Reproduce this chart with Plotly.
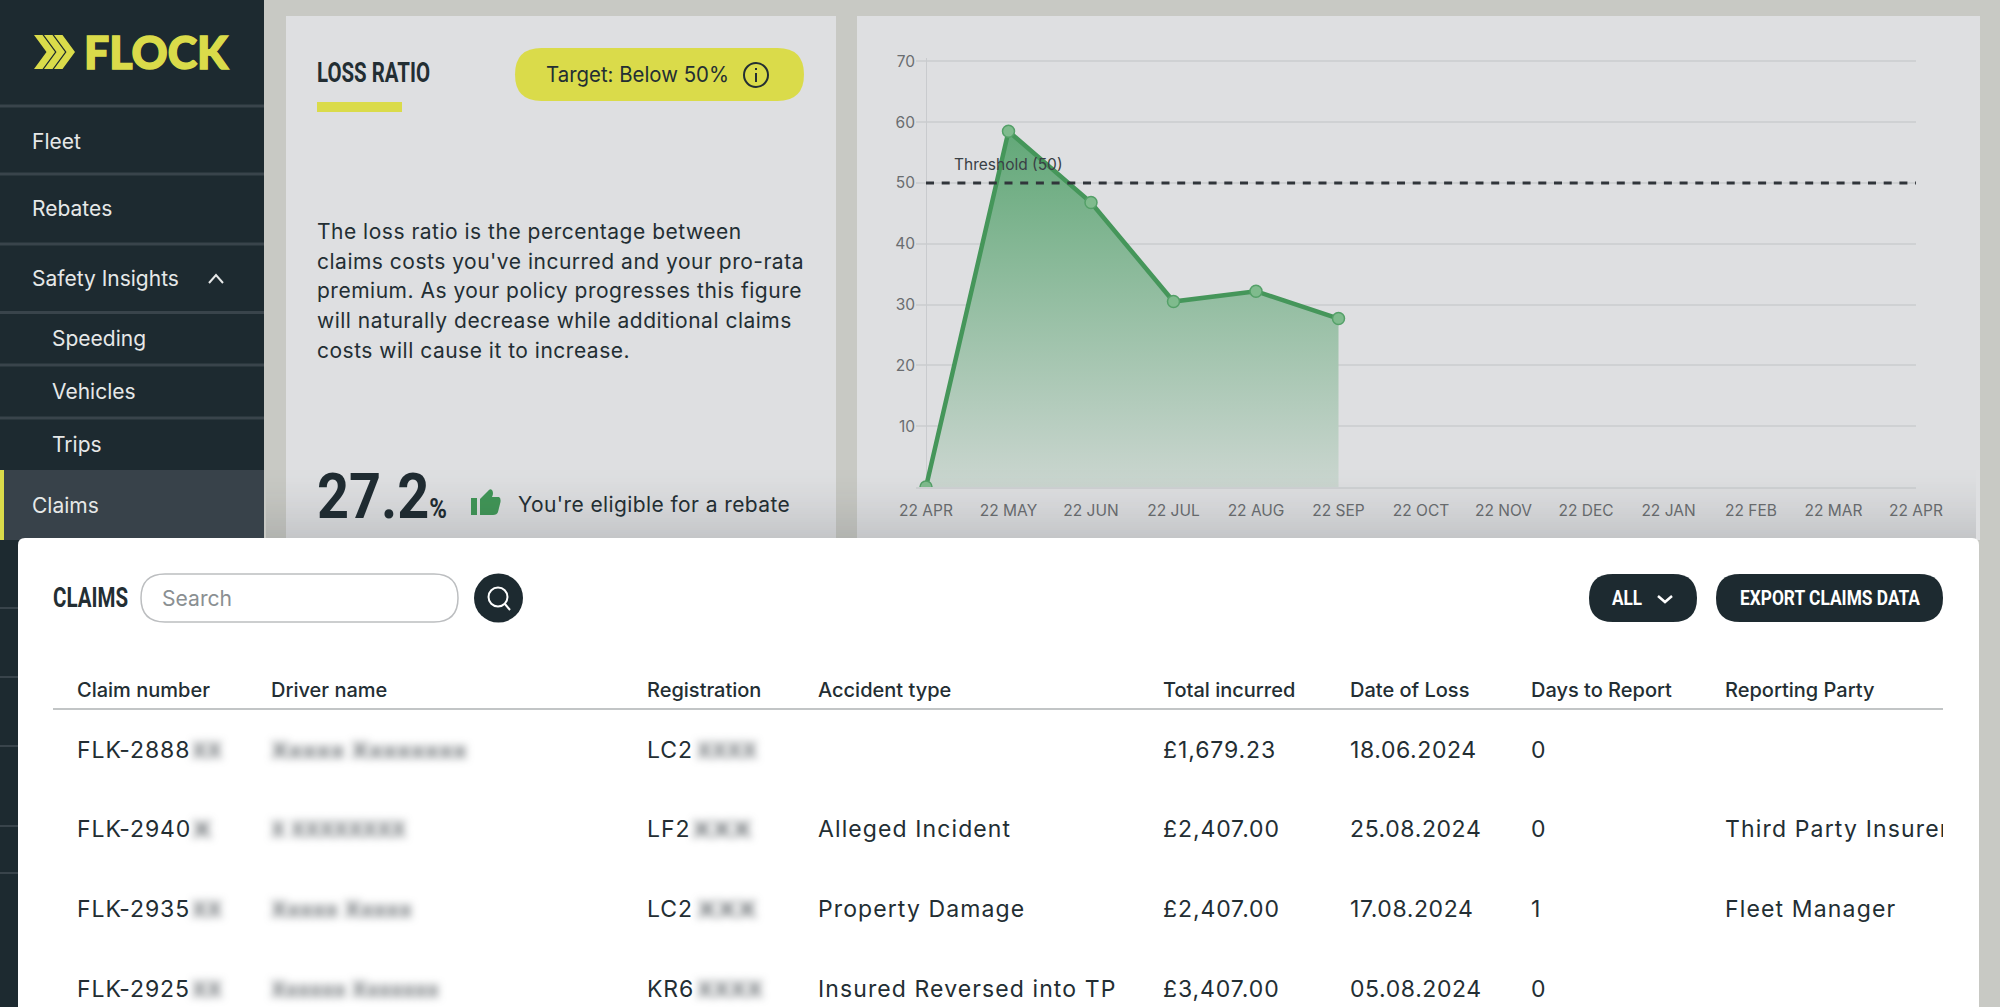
import json
import plotly.graph_objects as go

W, H = 2000, 1007

months = ["22 APR", "22 MAY", "22 JUN", "22 JUL", "22 AUG", "22 SEP", "22 OCT",
          "22 NOV", "22 DEC", "22 JAN", "22 FEB", "22 MAR", "22 APR"]
month_pos = list(range(len(months)))
loss_ratio = [0, 58.5, 46.8, 30.5, 32.2, 27.7]
threshold = 50
y_ticks = [10, 20, 30, 40, 50, 60, 70]

nav_top = ["Fleet", "Rebates", "Safety Insights"]
nav_sub = ["Speeding", "Vehicles", "Trips"]
blurb = ["The loss ratio is the percentage between",
         "claims costs you've incurred and your pro-rata",
         "premium. As your policy progresses this figure",
         "will naturally decrease while additional claims",
         "costs will cause it to increase."]

headers = ["Claim number", "Driver name", "Registration", "Accident type",
           "Total incurred", "Date of Loss", "Days to Report", "Reporting Party"]
claim_no = ["FLK-2888", "FLK-2940", "FLK-2935", "FLK-2925"]
reg_no = ["LC2", "LF2", "LC2", "KR6"]
accident = ["", "Alleged Incident", "Property Damage", "Insured Reversed into TP"]
incurred = ["£1,679.23", "£2,407.00", "£2,407.00", "£3,407.00"]
loss_date = ["18.06.2024", "25.08.2024", "17.08.2024", "05.08.2024"]
days_report = ["0", "0", "1", "0"]
party = ["", "Third Party Insurer", "Fleet Manager", ""]
# the redacted bits are blurred in the source, so these are just filler of about the same length
hidden_claim = ["XX", "X", "XX", "XX"]
hidden_driver = ["Xxxxx Xxxxxxxx", "X XXXXXXXX", "Xxxxx Xxxxx", "Xxxxxx Xxxxxxx"]
hidden_reg = ["XXXX", "XXX", "XXX", "XXXX"]

DARK = "#1d2a30"
YELLOW = "#dadb4a"
GREEN = "#45965a"
TEXT = "#232e33"
FONT = "Inter"
HEAVY = "Roboto"


def px(x):
    return x / W


def py(y):
    return 1 - y / H


def pt(x, y):
    return f"{px(x):.5f} {py(y):.5f}"


def rrect(x0, y0, x1, y1, r):
    return (f"M {pt(x0 + r, y0)} L {pt(x1 - r, y0)} Q {pt(x1, y0)} {pt(x1, y0 + r)} "
            f"L {pt(x1, y1 - r)} Q {pt(x1, y1)} {pt(x1 - r, y1)} L {pt(x0 + r, y1)} "
            f"Q {pt(x0, y1)} {pt(x0, y1 - r)} L {pt(x0, y0 + r)} Q {pt(x0, y0)} {pt(x0 + r, y0)} Z")


def poly(points, close=True):
    d = "M " + " L ".join(pt(x, y) for x, y in points)
    return d + (" Z" if close else "")


shapes = []


def box(x0, y0, x1, y1, fill, layer="below"):
    shapes.append(dict(type="rect", xref="paper", yref="paper", x0=px(x0), x1=px(x1),
                       y0=py(y1), y1=py(y0), fillcolor=fill, line_width=0, layer=layer))


def path(d, fill=None, line=None, width=0, layer="below"):
    shapes.append(dict(type="path", xref="paper", yref="paper", path=d, layer=layer,
                       fillcolor=fill or "rgba(0,0,0,0)",
                       line=dict(color=line or "rgba(0,0,0,0)", width=width)))


def circle(cx, cy, r, fill=None, line=None, width=0, layer="below"):
    shapes.append(dict(type="circle", xref="paper", yref="paper", x0=px(cx - r), x1=px(cx + r),
                       y0=py(cy + r), y1=py(cy - r), layer=layer,
                       fillcolor=fill or "rgba(0,0,0,0)",
                       line=dict(color=line or "rgba(0,0,0,0)", width=width)))


annotations = []
text_fit = {}   # annotation index -> letter spacing / squeezed width, applied in the page


def label(x, y, text, size=21, color=TEXT, family=FONT, weight=400, track=0, fit=None, clip=None, stroke=0):
    note = dict(xref="paper", yref="paper", x=px(x), y=py(y), text=text, showarrow=False,
                xanchor="left", yanchor="middle", align="left", borderpad=0, borderwidth=0,
                font=dict(size=size, color=color, family=family, weight=weight))
    if clip:
        note["width"] = clip
    annotations.append(note)
    k = len(annotations) - 1
    if track or fit or stroke:
        text_fit[k] = dict(ls=track, w=fit, stroke=stroke, color=color)
    return k


# page, sidebar and the two cards
box(0, 0, W, H, "#c8c9c4")
box(0, 0, 264, H, DARK)
box(286, 16, 836, 540, "#dedfe1")
box(857, 16, 1980, 540, "#dedfe1")

for y in [106, 174, 244, 312.5, 365, 418]:
    box(0, y - 1.5, 264, y + 1.5, "#39444b")
for y in [608, 677, 746, 826, 873]:
    box(0, y - 1, 18, y + 1, "#39444b")
box(0, 470, 264, 540, "#38424a")
box(0, 470, 4, 540, YELLOW)

# logo
for off in [0, 10, 20]:
    path(poly([(34 + off, 35), (42.5 + off, 35), (55 + off, 52), (42.5 + off, 69), (34 + off, 69), (46.5 + off, 52)]),
         fill=YELLOW)
label(84, 52, "FLOCK", size=45, color=YELLOW, family="Lato", weight=900, fit=144, stroke=1.5)

for name, y in zip(nav_top, [141, 209, 278]):
    label(32, y, name, color="#e6e8e8")
for name, y in zip(nav_sub, [338.5, 391.5, 444]):
    label(52, y, name, color="#e6e8e8")
label(32, 505, "Claims", color="#e6e8e8")
path(poly([(209, 283), (216, 275), (223, 283)], close=False), line="#e6e8e8", width=2)

# loss ratio card
label(317, 73, "LOSS RATIO", size=27, family=HEAVY, weight=700, fit=113)
box(317, 102, 402, 112, YELLOW)
path(rrect(515, 48, 804, 101, 26.5), fill=YELLOW)
label(546, 75, "Target: Below 50%", size=21, fit=183)
circle(756, 75, 12, line=TEXT, width=2)
box(755, 73, 757, 82, TEXT)
box(755, 68, 757, 70, TEXT)
for line, y in zip(blurb, [231.5, 261, 290.5, 320.5, 350.5]):
    label(317, y, line, size=21, track=0.5)
label(317, 496, '27.2<span style="font-size:27px">%</span>', size=63, color="#1f2b31",
      family=HEAVY, weight=700, fit=130)
box(471, 498, 477, 515, "#3f9656")
path(f"M {pt(480, 499)} L {pt(488, 491)} Q {pt(490, 488)} {pt(492, 490)} Q {pt(494, 493)} {pt(492, 497)} "
     f"L {pt(499, 497)} Q {pt(501, 498)} {pt(500.5, 502)} L {pt(498, 512)} Q {pt(497, 515)} {pt(493, 515)} "
     f"L {pt(480, 515)} Z", fill="#3f9656")
label(518, 504, "You're eligible for a rebate", size=21, track=0.4)

# shadow thrown upwards by the white panel
for i in range(35):
    y = 470 + i * 2
    box(266, y, 1976, y + 2, f"rgba(60,64,70,{0.16 * (i / 34) ** 1.4 + 0.002:.4f})", layer="above")

# white claims panel
path(rrect(18, 538, 1979, H + 20, 7), fill="#ffffff", layer="above")
label(53, 598, "CLAIMS", size=27, family=HEAVY, weight=700, fit=75)
path(rrect(141, 574, 458, 622, 24), fill="#ffffff", line="#bcbec0", width=1.5, layer="above")
label(162, 598, "Search", size=21, color="#8a8f92", fit=70)
circle(498.5, 598, 24.5, fill=DARK, layer="above")
circle(498, 597, 9.5, line="#ffffff", width=2, layer="above")
path(poly([(505, 604), (510, 610)], close=False), line="#ffffff", width=2, layer="above")
path(rrect(1589, 574, 1697, 622, 24), fill=DARK, layer="above")
label(1612, 598, "ALL", size=21, color="#ffffff", family=HEAVY, weight=700, fit=30)
path(poly([(1658, 596), (1665, 602), (1672, 596)], close=False), line="#ffffff", width=2.5, layer="above")
path(rrect(1716, 574, 1943, 622, 24), fill=DARK, layer="above")
label(1740, 598, "EXPORT CLAIMS DATA", size=21, color="#ffffff", family=HEAVY, weight=700, fit=180)

columns = [77, 271, 647, 818, 1163, 1349.5, 1531, 1725]
row_y = [750, 829, 909, 989]
for x, name in zip(columns, headers):
    label(x, 690, name, size=20, weight=500)
box(53, 708, 1943, 710, "#c2c5c6", layer="above")

blurred = []
blur_grey = "#3f464b"
driver_w = [196, 135, 141, 168]
reg_x = [697, 692, 697, 697]
claim_w = [30, 20, 30, 30]
reg_w = [60, 60, 60, 66]
for i, y in enumerate(row_y):
    label(columns[0], y, claim_no[i], size=23, track=0.9)
    blurred.append(label(192, y, hidden_claim[i], size=22, color=blur_grey, weight=500, fit=claim_w[i]))
    blurred.append(label(columns[1], y, hidden_driver[i], size=22, color=blur_grey, weight=500, fit=driver_w[i]))
    label(columns[2], y, reg_no[i], size=23, track=0.9)
    blurred.append(label(reg_x[i], y, hidden_reg[i], size=22, color=blur_grey, weight=500, fit=reg_w[i]))
    label(columns[3], y, accident[i], size=23, track=1.1)
    label(columns[4], y, incurred[i], size=23, track=0.9)
    label(columns[5], y, loss_date[i], size=23, track=0.6)
    label(columns[6], y, days_report[i], size=23, track=0.8)
    label(columns[7], y, party[i], size=23, track=1.15, clip=218 if len(party[i]) > 15 else None)

# threshold label sits on the chart
annotations.append(dict(xref="x", yref="y", x=0.31, y=53, text="Threshold (50)", showarrow=False,
                        xanchor="left", yanchor="middle",
                        font=dict(size=15.5, color="#3a4045", family=FONT)))

fig = go.Figure()
fig.add_trace(go.Scatter(
    x=month_pos[:len(loss_ratio)], y=loss_ratio, mode="lines+markers", fill="tozeroy",
    fillgradient=dict(type="vertical", colorscale=[[0, "#cbd6d0"], [1, "#62a878"]]),
    line=dict(color=GREEN, width=4.5),
    marker=dict(size=12, color="#7fbb8d", line=dict(color="#54a068", width=1.5)),
    showlegend=False, hoverinfo="skip"))
fig.add_trace(go.Scatter(
    x=[month_pos[0], month_pos[-1]], y=[threshold, threshold], mode="lines",
    line=dict(color="#30353a", width=3, dash="8px,7.7px"), showlegend=False, hoverinfo="skip"))

fig.update_layout(
    template=None, width=W, height=H, margin=dict(l=0, r=0, t=0, b=0, pad=0, autoexpand=False),
    paper_bgcolor="rgba(0,0,0,0)", plot_bgcolor="rgba(0,0,0,0)",
    font=dict(family=FONT), shapes=shapes, annotations=annotations, showlegend=False,
    xaxis=dict(automargin=False, domain=[px(916), px(1916)], range=[-10 / 82.5, 12], tickmode="array",
               tickvals=month_pos, ticktext=months, showgrid=False, zeroline=True, zerolinecolor="#c9cbce",
               zerolinewidth=1, showline=True, linecolor="#cfd1d3", linewidth=2, ticks="outside", ticklen=8,
               tickcolor="rgba(0,0,0,0)", tickfont=dict(size=15.5, color="#6a6d70")),
    # range runs just past 70 so the top gridline is drawn
    yaxis=dict(automargin=False, domain=[py(487), py(58.36)], range=[0, 70.5], tickmode="array", tickvals=y_ticks,
               showgrid=True, gridcolor="#cfd1d3", gridwidth=1.5, zeroline=False, showline=False, ticks="",
               tickfont=dict(size=15.5, color="#6a6d70")),
)

post = """
document.body.style.margin = '0';
document.body.style.overflow = 'hidden';
var gd = document.getElementById('{plot_id}');
var blurred = %s;
var textFit = %s;
function finishNotes() {
  blurred.forEach(function (k) {
    var el = gd.querySelector('.annotation[data-index="' + k + '"]');
    if (el) { el.style.filter = 'blur(4px)'; }
  });
  Object.keys(textFit).forEach(function (k) {
    var note = gd.querySelector('.annotation[data-index="' + k + '"]');
    var el = note ? note.querySelector('text') : null;
    if (!el || el.dataset.done) { return; }
    var f = textFit[k];
    var b = el.getBBox();
    el.setAttribute('x', b.x);
    el.setAttribute('text-anchor', 'start');
    el.style.textAnchor = 'start';
    if (f.ls) { el.style.letterSpacing = f.ls + 'px'; }
    if (f.stroke) { el.style.stroke = f.color; el.style.strokeWidth = f.stroke + 'px'; }
    if (f.w) {
      el.setAttribute('textLength', f.w);
      el.setAttribute('lengthAdjust', 'spacingAndGlyphs');
      var bg = note.querySelector('rect.bg');
      if (bg) { bg.setAttribute('width', f.w); }
    }
    el.dataset.done = '1';
  });
}
gd.on('plotly_afterplot', finishNotes);
finishNotes();
setTimeout(finishNotes, 100);
""" % (json.dumps(blurred), json.dumps(text_fit))

fig.write_html("out.html", config=dict(displayModeBar=False), post_script=post)
